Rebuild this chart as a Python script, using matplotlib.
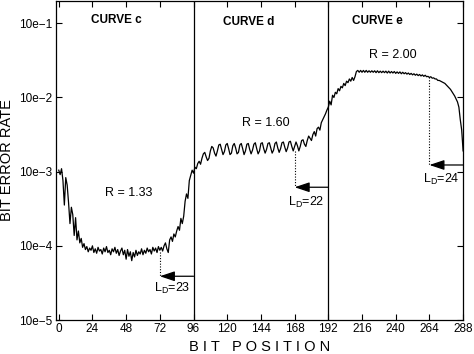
import numpy as np
import matplotlib.pyplot as plt

plt.rcParams['font.family'] = ['Liberation Sans', 'DejaVu Sans']

# log10 of the bit error rate, one value per bit position
curve_c = [-2.98, -3.04, -2.96, -3.12, -3.45, -3.08, -3.18, -3.42, -3.70, -3.48,
           -3.58, -3.86, -3.62, -3.92, -3.80, -3.96, -3.90, -4.02, -3.97, -4.05,
           -4.01, -4.08, -4.03, -4.06, -4.00, -4.09, -4.04, -4.10, -4.02, -4.07,
           -4.05, -4.11, -4.03, -4.08, -4.01, -4.09, -4.06, -4.12, -4.04, -4.08,
           -4.02, -4.10, -4.05, -4.13, -4.07, -4.03, -4.12, -4.06, -4.18, -4.05,
           -4.14, -4.08, -4.20, -4.09, -4.15, -4.06, -4.13, -4.08, -4.11, -4.04,
           -4.12, -4.06, -4.10, -4.03, -4.08, -4.05, -4.11, -4.02, -4.07, -4.03,
           -4.09, -4.01, -4.06, -4.02, -4.07, -4.00, -3.96, -4.04, -4.09, -3.92,
           -3.88, -3.94, -3.84, -3.88, -3.80, -3.74, -3.79, -3.63, -3.70, -3.60,
           -3.40, -3.30, -3.36, -3.12, -3.05, -2.98, -3.02]
curve_d = [-2.94, -2.96, -2.89, -2.86, -2.90, -2.82, -2.76, -2.74, -2.80, -2.85,
           -2.82, -2.72, -2.66, -2.68, -2.75, -2.79, -2.72, -2.64, -2.63, -2.70,
           -2.77, -2.73, -2.64, -2.62, -2.69, -2.77, -2.75, -2.65, -2.62, -2.68,
           -2.76, -2.74, -2.64, -2.62, -2.69, -2.77, -2.72, -2.63, -2.62, -2.70,
           -2.76, -2.71, -2.63, -2.61, -2.69, -2.76, -2.72, -2.62, -2.61, -2.69,
           -2.75, -2.70, -2.62, -2.61, -2.68, -2.75, -2.71, -2.62, -2.60, -2.68,
           -2.74, -2.69, -2.61, -2.60, -2.67, -2.73, -2.68, -2.60, -2.59, -2.66,
           -2.72, -2.66, -2.60, -2.65, -2.72, -2.66, -2.58, -2.57, -2.63, -2.66,
           -2.58, -2.52, -2.55, -2.58, -2.50, -2.46, -2.52, -2.42, -2.40, -2.44,
           -2.34, -2.30, -2.26, -2.22, -2.17, -2.13]
curve_e = [-2.05, -2.10, -1.97, -2.00, -1.93, -1.95, -1.88, -1.91, -1.85, -1.87,
           -1.81, -1.84, -1.78, -1.80, -1.75, -1.78, -1.73, -1.77, -1.72,
           -1.65, -1.635, -1.66, -1.635, -1.66, -1.635, -1.66, -1.635, -1.66, -1.64,
           -1.66, -1.64, -1.66, -1.64, -1.665, -1.64, -1.665, -1.645, -1.665, -1.645,
           -1.665, -1.645, -1.67, -1.645, -1.67, -1.65, -1.67, -1.65, -1.675, -1.655,
           -1.675, -1.655, -1.68, -1.66, -1.68, -1.665, -1.685, -1.67, -1.69, -1.675,
           -1.695, -1.68, -1.70, -1.685, -1.705, -1.69, -1.71, -1.695, -1.715, -1.70,
           -1.72,
           -1.715, -1.73, -1.72, -1.74, -1.735, -1.75, -1.75, -1.77, -1.77, -1.78,
           -1.79, -1.80, -1.81, -1.83, -1.85, -1.87, -1.89, -1.92, -1.95, -1.98,
           -2.02, -2.06, -2.13, -2.30, -2.44, -2.72]
x_c = np.arange(0, 97)
x_d = np.arange(97, 193)
x_e = np.arange(193, 193 + len(curve_e))

bits = np.concatenate([x_c, x_d, x_e])
ber = 10.0 ** np.array(curve_c + curve_d + curve_e)

fig = plt.figure(figsize=(4.74, 3.54), dpi=100)
ax = fig.add_axes([0.118, 0.096, 0.859, 0.901])

ax.plot(bits, ber, color='black', linewidth=0.9)
ax.axvline(96, color='black', linewidth=0.9)
ax.axvline(192, color='black', linewidth=0.9)

ax.set_yscale('log')
ax.set_xlim(-2, 288)
ax.set_ylim(1e-5, 10 ** -0.70)
ax.set_xticks(np.arange(0, 289, 24))
ax.set_yticks([1e-1, 1e-2, 1e-3, 1e-4, 1e-5])
ax.set_yticklabels(['10e\u22121', '10e\u22122', '10e\u22123', '10e\u22124', '10e\u22125'])
ax.yaxis.set_minor_locator(plt.NullLocator())
ax.tick_params(axis='both', which='major', direction='in', length=4, width=0.8,
               top=True, right=True, labelsize=8.5, pad=2.5)
for s in ax.spines.values():
    s.set_linewidth(0.9)

ax.set_xlabel('B I T   P O S I T I O N', fontsize=10.5, labelpad=3)
ax.set_ylabel('BIT ERROR RATE', fontsize=10.5, labelpad=4)

# curve titles and R values
for xt, yt, txt in [(41, -0.96, 'CURVE c'), (135, -0.98, 'CURVE d'), (227, -0.97, 'CURVE e')]:
    ax.text(xt, 10 ** yt, txt, ha='center', va='center', fontsize=8.5, fontweight='bold')
for xt, yt, txt in [(50, -3.29, 'R = 1.33'), (147.5, -2.35, 'R = 1.60'), (238, -1.43, 'R = 2.00')]:
    ax.text(xt, 10 ** yt, txt, ha='center', va='center', fontsize=9)

# decision length markers
for x0, x1, ytop, yarr, ylab, lab in [(72, 96, -4.08, -4.41, -4.57, '23'),
                                      (168, 192, -2.72, -3.21, -3.41, '22'),
                                      (264, 288, -1.72, -2.91, -3.11, '24')]:
    ax.plot([x0, x0], [10 ** ytop, 10 ** yarr], color='black', linestyle=(0, (1, 1.5)),
            linewidth=0.8)
    ax.annotate('', xy=(x0, 10 ** yarr), xytext=(x1, 10 ** yarr),
                arrowprops=dict(arrowstyle='-|>,head_length=0.9,head_width=0.3',
                                color='black', lw=0.9, shrinkA=0, shrinkB=0,
                                mutation_scale=10))
    ax.text(x0 + 8.5, 10 ** ylab, r'L$_{\mathregular{D}}$=' + lab, ha='center', va='center',
            fontsize=9)

fig.savefig('out.png', dpi=100)
